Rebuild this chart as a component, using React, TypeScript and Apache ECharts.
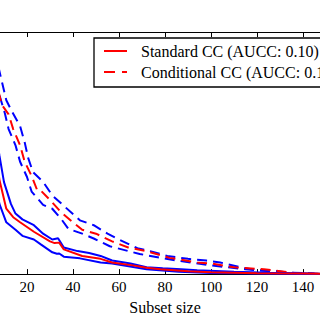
import React, { useEffect, useRef } from "react";
import * as echarts from "echarts";

const xTicks = [0, 20, 40, 60, 80, 100, 120, 140, 160];

const stdUpper = [[6,0.62],[8,0.49],[10,0.38],[13,0.29],[15,0.25],[18,0.226],[23,0.202],[27,0.167],[31,0.143],[33.5,0.148],[36,0.11],[42,0.095],[47,0.087],[52,0.075],[57,0.056],[65,0.044],[72,0.028],[79,0.024],[87,0.02],[94,0.016],[110,0.01],[125,0.006],[140,0.003],[150,0.001]];
const stdMean = [[6,0.52],[8,0.39],[11,0.27],[14,0.235],[17,0.214],[23,0.175],[30,0.135],[32,0.128],[34,0.13],[36,0.102],[44,0.075],[52,0.063],[57,0.048],[66,0.036],[72,0.026],[78,0.02],[90,0.012],[100,0.008],[120,0.004],[140,0.002],[150,0.001]];
const stdLower = [[6,0.4],[8,0.29],[11,0.214],[15,0.183],[18,0.158],[23,0.143],[26,0.123],[31,0.09],[33,0.084],[34,0.085],[36,0.072],[43,0.065],[52,0.048],[57,0.044],[72,0.02],[86,0.01],[100,0.005],[120,0.002],[150,0]];

const condUpper = [[6,0.92],[8.7,0.81],[11,0.718],[13.5,0.671],[17,0.611],[19,0.544],[20.5,0.48],[22.6,0.421],[27,0.381],[31,0.325],[36,0.282],[43,0.222],[49,0.202],[55,0.167],[60,0.143],[68,0.107],[73.5,0.095],[81,0.075],[90,0.063],[98,0.056],[104,0.048],[113,0.028],[120,0.016],[129,0.012],[136,0.004],[144,0.001],[150,0]];
const condMean = [[6,0.82],[9,0.7],[12,0.66],[14,0.599],[17,0.532],[19,0.464],[22,0.405],[24.5,0.345],[26,0.345],[30,0.306],[35,0.254],[40,0.214],[44,0.183],[50,0.167],[57,0.135],[64,0.11],[72,0.095],[82,0.067],[94,0.048],[100,0.044],[110,0.028],[123,0.02],[137,0.004],[150,0]];
const condLower = [[6,0.8],[8,0.74],[10.4,0.663],[12,0.599],[15,0.532],[17,0.464],[20,0.401],[22,0.341],[27,0.286],[31,0.27],[35,0.226],[38,0.187],[44,0.167],[49,0.147],[56,0.115],[69,0.083],[85,0.056],[100,0.036],[115,0.02],[130,0.008],[145,0.002]];

const legendLabels = ["Standard CC (AUCC: 0.10)", "Conditional CC (AUCC: 0.13)"];

const RED = "#ff0000";
const BLUE = "#0000ff";
const FONT = "'Liberation Serif', 'Times New Roman', 'DejaVu Serif', serif";
const DASH = [10, 6];

export default function App() {
  const ref = useRef<HTMLDivElement>(null);
  useEffect(() => {
    if (!ref.current) return;
    const chart = echarts.init(ref.current, null, { renderer: "svg" });
    const mk = (name: string, data: number[][], color: string, dashed: boolean) => ({
      name,
      type: "line",
      data,
      showSymbol: false,
      symbol: "none",
      silent: true,
      lineStyle: { color, width: 2, type: dashed ? DASH : "solid" },
    });
    const axisCommon = {
      type: "value",
      min: xTicks[0],
      max: xTicks[xTicks.length - 1],
      interval: 20,
      axisLine: { show: true, lineStyle: { color: "#000", width: 1 } },
      axisTick: { show: true, inside: true, length: 5, lineStyle: { color: "#000" } },
      splitLine: { show: false },
    };
    chart.setOption({
      animation: false,
      backgroundColor: "#fff",
      grid: { left: 21, right: 31, top: 32, bottom: 36 },
      xAxis: [
        {
          ...axisCommon,
          position: "bottom",
          axisLabel: { color: "#000", fontFamily: FONT, fontSize: 15, margin: 5, showMinLabel: false, showMaxLabel: false },
          name: "Subset size",
          nameLocation: "middle",
          nameGap: 21,
          nameTextStyle: { color: "#000", fontFamily: FONT, fontSize: 16 },
        },
        {
          ...axisCommon,
          position: "top",
          axisLabel: { show: false },
        },
      ],
      yAxis: {
        type: "value",
        min: 0,
        max: 1,
        axisLine: { show: true, lineStyle: { color: "#000" } },
        axisTick: { show: false },
        axisLabel: { show: false },
        splitLine: { show: false },
      },
      series: [
        mk("Conditional upper", condUpper, BLUE, true),
        mk("Conditional lower", condLower, BLUE, true),
        mk(legendLabels[1], condMean, RED, true),
        mk("Standard upper", stdUpper, BLUE, false),
        mk("Standard lower", stdLower, BLUE, false),
        mk(legendLabels[0], stdMean, RED, false),
      ],
      graphic: [
        {
          type: "rect",
          shape: { x: 134, y: 38, width: 250, height: 49 },
          style: { fill: "#fff", stroke: "#000", lineWidth: 1.3 },
          z: 100,
        },
        {
          type: "line",
          shape: { x1: 144, y1: 51, x2: 167, y2: 51 },
          style: { stroke: RED, lineWidth: 2 },
          z: 101,
        },
        {
          type: "line",
          shape: { x1: 144, y1: 72, x2: 167, y2: 72 },
          style: { stroke: RED, lineWidth: 2, lineDash: [11, 7] },
          z: 101,
        },
        {
          type: "text",
          x: 181,
          y: 51,
          style: { text: legendLabels[0], fill: "#000", fontFamily: FONT, fontSize: 16, verticalAlign: "middle" },
          z: 101,
        },
        {
          type: "text",
          x: 181,
          y: 72,
          style: { text: legendLabels[1], fill: "#000", fontFamily: FONT, fontSize: 16, verticalAlign: "middle" },
          z: 101,
        },
      ],
    });
    return () => chart.dispose();
  }, []);
  return (
    <div style={{ position: "fixed", left: 0, top: 0, width: 320, height: 320, overflow: "hidden", background: "#fff" }}>
      <div ref={ref} style={{ position: "absolute", left: -40, top: 0, width: 420, height: 320 }} />
    </div>
  );
}
